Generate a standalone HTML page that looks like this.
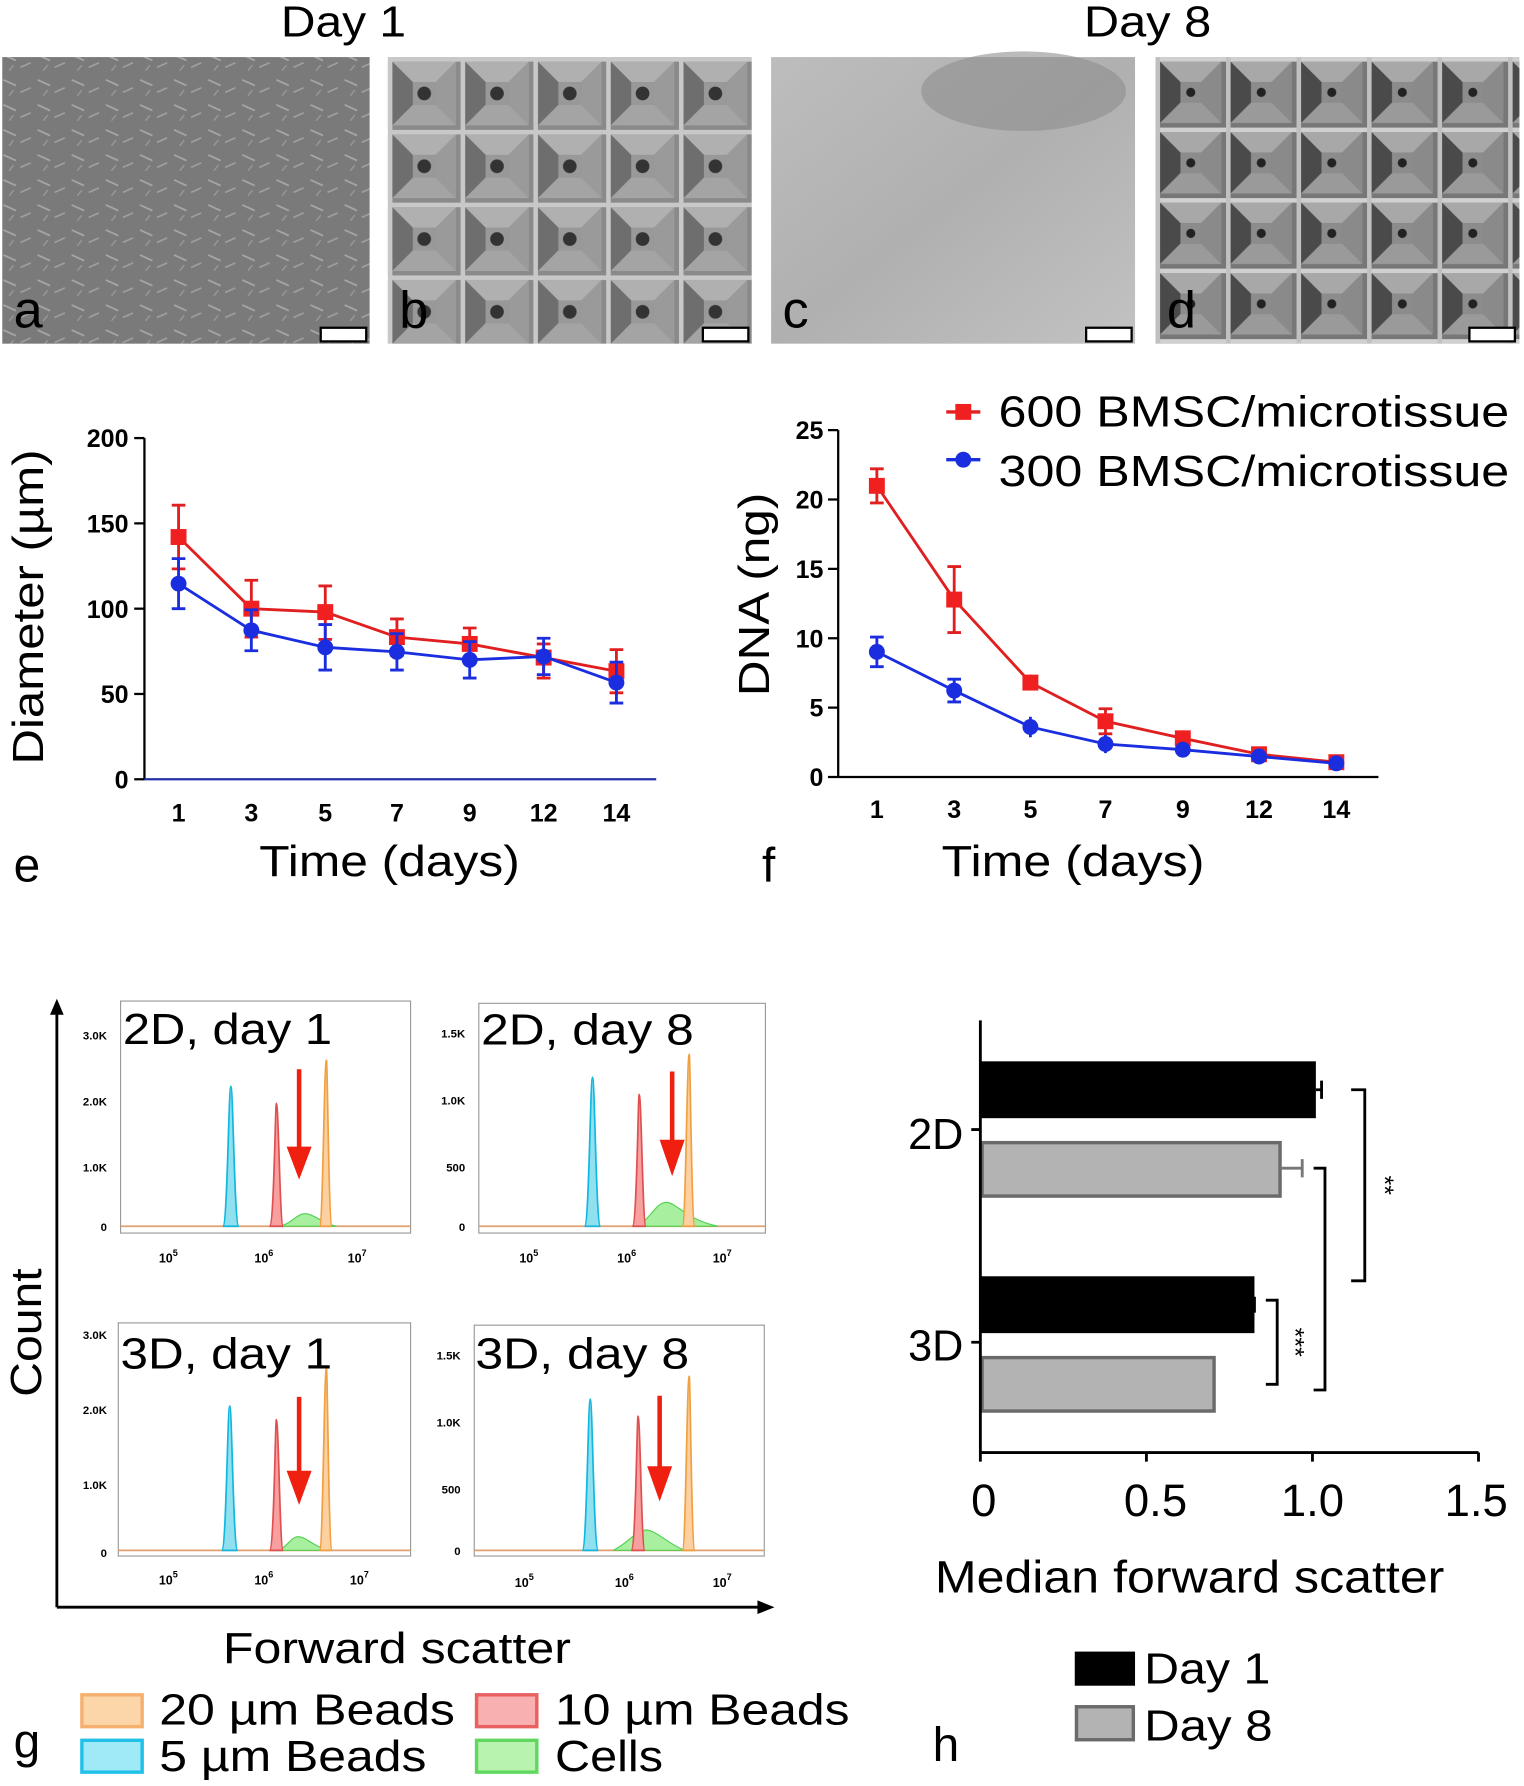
<!DOCTYPE html>
<html><head><meta charset="utf-8"><style>
html,body{margin:0;padding:0;background:#fff}
svg{display:block}
text{font-family:"Liberation Sans",Arial,sans-serif}
</style></head><body>
<svg width="1524" height="1786" viewBox="0 0 1340 1570" xmlns="http://www.w3.org/2000/svg">
<defs>
<pattern id="grid1" x="341" y="50" width="64" height="64" patternUnits="userSpaceOnUse">
<rect width="64" height="64" fill="#8a8a8a"/>
<polygon points="4,4 60,4 42,22 22,22" fill="#b0b0b0"/>
<polygon points="4,4 22,22 22,42 4,60" fill="#6e6e6e"/>
<polygon points="60,4 60,60 42,42 42,22" fill="#9a9a9a"/>
<polygon points="4,60 60,60 42,42 22,42" fill="#a4a4a4"/>
<rect x="22" y="22" width="20" height="20" fill="#999"/>
<circle cx="32" cy="32" r="6" fill="#333"/>
<rect x="0" y="0" width="64" height="4" fill="#c8c8c8"/>
<rect x="0" y="0" width="4" height="64" fill="#c8c8c8"/>
</pattern>
<pattern id="grid2" x="1016" y="50" width="62" height="62" patternUnits="userSpaceOnUse">
<rect width="62" height="62" fill="#777"/>
<polygon points="4,4 58,4 40,22 22,22" fill="#a8a8a8"/>
<polygon points="4,4 22,22 22,40 4,58" fill="#4a4a4a"/>
<polygon points="58,4 58,58 40,40 40,22" fill="#8a8a8a"/>
<polygon points="4,58 58,58 40,40 22,40" fill="#9a9a9a"/>
<rect x="22" y="22" width="18" height="18" fill="#8c8c8c"/>
<circle cx="31" cy="31" r="4" fill="#222"/>
<rect x="0" y="0" width="62" height="4" fill="#d0d0d0"/>
<rect x="0" y="0" width="4" height="62" fill="#c0c0c0"/>
</pattern>
<pattern id="cells" width="30" height="22" patternUnits="userSpaceOnUse">
<rect width="30" height="22" fill="#7a7a7a"/>
<line x1="3" y1="4" x2="14" y2="9" stroke="#a8a8a8" stroke-width="1.5"/>
<line x1="18" y1="15" x2="27" y2="11" stroke="#a0a0a0" stroke-width="1.5"/>
<line x1="8" y1="18" x2="12" y2="13" stroke="#999" stroke-width="1.2"/>
</pattern>
<linearGradient id="cg" x1="0" y1="0" x2="1" y2="1">
<stop offset="0" stop-color="#bdbdbd"/><stop offset="0.5" stop-color="#b0b0b0"/><stop offset="1" stop-color="#c2c2c2"/>
</linearGradient>
</defs>

<text x="247" y="32" font-size="38" textLength="110" lengthAdjust="spacingAndGlyphs">Day 1</text>
<text x="953" y="32" font-size="38" textLength="112" lengthAdjust="spacingAndGlyphs">Day 8</text>

<rect x="2" y="50" width="323" height="252" fill="url(#cells)"/>
<rect x="341" y="50" width="320" height="252" fill="url(#grid1)"/>
<rect x="678" y="50" width="320" height="252" fill="url(#cg)"/>
<ellipse cx="900" cy="80" rx="90" ry="35" fill="#8e8e8e" opacity="0.6"/>
<rect x="1016" y="50" width="320" height="252" fill="url(#grid2)"/>
<g font-size="46">
<text x="12" y="288">a</text><text x="351" y="288">b</text><text x="688" y="288">c</text><text x="1026" y="288">d</text>
</g>
<g fill="#fff" stroke="#000" stroke-width="2">
<rect x="282" y="288" width="40" height="12"/><rect x="618" y="288" width="40" height="12"/>
<rect x="955" y="288" width="40" height="12"/><rect x="1292" y="288" width="40" height="12"/>
</g>

<!-- panel e -->
<g stroke="#000" stroke-width="2" fill="none">
<line x1="127" y1="385" x2="127" y2="685"/>
<line x1="127" y1="685" x2="577" y2="685" stroke="#2233aa"/>
<line x1="118" y1="385" x2="127" y2="385"/><line x1="118" y1="460" x2="127" y2="460"/><line x1="118" y1="535" x2="127" y2="535"/><line x1="118" y1="610" x2="127" y2="610"/><line x1="118" y1="685" x2="127" y2="685"/>
</g>
<g font-size="22" font-weight="bold" text-anchor="end">
<text x="113" y="393">200</text><text x="113" y="468">150</text><text x="113" y="543">100</text><text x="113" y="618">50</text><text x="113" y="693">0</text>
</g>
<g font-size="22" font-weight="bold" text-anchor="middle">
<text x="157" y="722">1</text><text x="221" y="722">3</text><text x="286" y="722">5</text><text x="349" y="722">7</text><text x="413" y="722">9</text><text x="478" y="722">12</text><text x="542" y="722">14</text>
</g>
<text transform="translate(38,672) rotate(-90)" font-size="38" textLength="277" lengthAdjust="spacingAndGlyphs">Diameter (µm)</text>
<text x="228" y="770" font-size="38" textLength="229" lengthAdjust="spacingAndGlyphs">Time (days)</text>
<text x="12" y="775" font-size="42">e</text>
<g stroke="#e02020" stroke-width="2.5" fill="none">
<polyline points="157,472 221,535 286,538 349,560 413,566 478,578 542,590"/>
<path d="M157,444V500M151,444h12M151,500h12 M221,510V560M215,510h12M215,560h12 M286,515V562M280,515h12M280,562h12 M349,544V576M343,544h12M343,576h12 M413,552V580M407,552h12M407,580h12 M478,566V596M472,566h12M472,596h12 M542,571V609M536,571h12M536,609h12"/>
</g>
<g fill="#f02020"><rect x="150" y="465" width="14" height="14"/><rect x="214" y="528" width="14" height="14"/><rect x="279" y="531" width="14" height="14"/><rect x="342" y="553" width="14" height="14"/><rect x="406" y="559" width="14" height="14"/><rect x="471" y="571" width="14" height="14"/><rect x="535" y="583" width="14" height="14"/></g>
<g stroke="#1a2ee0" stroke-width="2.5" fill="none">
<polyline points="157,513 221,554 286,569 349,573 413,580 478,577 542,600"/>
<path d="M157,491V535M151,491h12M151,535h12 M221,536V572M215,536h12M215,572h12 M286,549V589M280,549h12M280,589h12 M349,557V589M343,557h12M343,589h12 M413,564V596M407,564h12M407,596h12 M478,561V593M472,561h12M472,593h12 M542,582V618M536,582h12M536,618h12"/>
</g>
<g fill="#1a2ee0"><circle cx="157" cy="513" r="7"/><circle cx="221" cy="554" r="7"/><circle cx="286" cy="569" r="7"/><circle cx="349" cy="573" r="7"/><circle cx="413" cy="580" r="7"/><circle cx="478" cy="577" r="7"/><circle cx="542" cy="600" r="7"/></g>

<!-- panel f -->
<g stroke="#000" stroke-width="2" fill="none">
<line x1="737" y1="378" x2="737" y2="683"/>
<line x1="737" y1="683" x2="1212" y2="683"/>
<path d="M728,378h9M728,439h9M728,500h9M728,561h9M728,622h9M728,683h9"/>
</g>
<g font-size="22" font-weight="bold" text-anchor="end">
<text x="724" y="386">25</text><text x="724" y="447">20</text><text x="724" y="508">15</text><text x="724" y="569">10</text><text x="724" y="630">5</text><text x="724" y="691">0</text>
</g>
<g font-size="22" font-weight="bold" text-anchor="middle">
<text x="771" y="719">1</text><text x="839" y="719">3</text><text x="906" y="719">5</text><text x="972" y="719">7</text><text x="1040" y="719">9</text><text x="1107" y="719">12</text><text x="1175" y="719">14</text>
</g>
<text transform="translate(676,612) rotate(-90)" font-size="38" textLength="179" lengthAdjust="spacingAndGlyphs">DNA (ng)</text>
<text x="828" y="770" font-size="38" textLength="231" lengthAdjust="spacingAndGlyphs">Time (days)</text>
<text x="670" y="775" font-size="42">f</text>
<g stroke="#e02020" stroke-width="2.5" fill="none">
<polyline points="771,427 839,527 906,600 972,634 1040,649 1107,663 1175,670"/>
<path d="M771,412V442M765,412h12M765,442h12 M839,498V556M833,498h12M833,556h12 M906,593V607 M972,623V645M966,623h12M966,645h12 M1040,642V656"/>
</g>
<g fill="#f02020"><rect x="764" y="420" width="14" height="14"/><rect x="832" y="520" width="14" height="14"/><rect x="899" y="593" width="14" height="14"/><rect x="965" y="627" width="14" height="14"/><rect x="1033" y="642" width="14" height="14"/><rect x="1100" y="656" width="14" height="14"/><rect x="1168" y="663" width="14" height="14"/></g>
<g stroke="#1a2ee0" stroke-width="2.5" fill="none">
<polyline points="771,573 839,607 906,639 972,654 1040,659 1107,665 1175,671"/>
<path d="M771,560V586M765,560h12M765,586h12 M839,597V617M833,597h12M833,617h12 M906,630V648 M972,646V662"/>
</g>
<g fill="#1a2ee0"><circle cx="771" cy="573" r="7"/><circle cx="839" cy="607" r="7"/><circle cx="906" cy="639" r="7"/><circle cx="972" cy="654" r="7"/><circle cx="1040" cy="659" r="7"/><circle cx="1107" cy="665" r="7"/><circle cx="1175" cy="671" r="7"/></g>
<line x1="832" y1="362" x2="862" y2="362" stroke="#e02020" stroke-width="3"/><rect x="840" y="355" width="14" height="14" fill="#f02020"/>
<text x="878" y="375" font-size="38" textLength="449" lengthAdjust="spacingAndGlyphs">600 BMSC/microtissue</text>
<line x1="832" y1="404" x2="862" y2="404" stroke="#1a2ee0" stroke-width="3"/><circle cx="847" cy="404" r="7" fill="#1a2ee0"/>
<text x="878" y="427" font-size="38" textLength="449" lengthAdjust="spacingAndGlyphs">300 BMSC/microtissue</text>

<!-- panel g -->
<g stroke="#000" stroke-width="2.5" fill="#000">
<line x1="50" y1="1413" x2="50" y2="890"/><polygon points="44,892 50,878 56,892" stroke="none"/>
<line x1="50" y1="1413" x2="668" y2="1413"/><polygon points="666,1407 681,1413 666,1419" stroke="none"/>
</g>
<text transform="translate(36,1228) rotate(-90)" font-size="38" textLength="113" lengthAdjust="spacingAndGlyphs">Count</text>
<text x="196" y="1462" font-size="38" textLength="306" lengthAdjust="spacingAndGlyphs">Forward scatter</text>

<g transform="translate(106,880)">
<rect x="0" y="0" width="255" height="204" fill="none" stroke="#999" stroke-width="1"/>
<line x1="0" y1="198" x2="255" y2="198" stroke="#e0a070" stroke-width="1.5"/>
<path d="M140,198 C150,196 155,187 162,187 C170,187 178,196 190,198Z" fill="#a8f0a0" stroke="#50d050" stroke-width="1"/>
<path d="M90,198 C94,198 95,75 97,75 C99,75 100,198 104,198Z" fill="#90e0f0" stroke="#10b8e0" stroke-width="1.5"/>
<path d="M131,198 C135,198 136,90 137,90 C139,90 140,198 143,198Z" fill="#f8a0a0" stroke="#e05050" stroke-width="1.5"/>
<path d="M175,198 C178,198 179,52 181,52 C182,52 183,198 186,198Z" fill="#fcd0a0" stroke="#f0a040" stroke-width="1.5"/>
<line x1="157" y1="60" x2="157" y2="130" stroke="#f02010" stroke-width="4"/><polygon points="146,128 168,128 157,157" fill="#f02010"/>
<text x="2" y="38" font-size="38" textLength="184" lengthAdjust="spacingAndGlyphs">2D, day 1</text>
<g font-size="10" font-weight="bold" text-anchor="end"><text x="-12" y="34">3.0K</text><text x="-12" y="92">2.0K</text><text x="-12" y="150">1.0K</text><text x="-12" y="202">0</text></g>
<g font-size="11" font-weight="bold" text-anchor="middle"><text x="42" y="230">10<tspan dy="-6" font-size="8">5</tspan></text><text x="126" y="230">10<tspan dy="-6" font-size="8">6</tspan></text><text x="208" y="230">10<tspan dy="-6" font-size="8">7</tspan></text></g>
</g>
<g transform="translate(421,882)">
<rect x="0" y="0" width="252" height="202" fill="none" stroke="#999" stroke-width="1"/>
<line x1="0" y1="196" x2="252" y2="196" stroke="#e0a070" stroke-width="1.5"/>
<path d="M138,196 C150,192 155,175 165,175 C175,176 182,190 210,196Z" fill="#a8f0a0" stroke="#50d050" stroke-width="1"/>
<path d="M93,196 C97,196 98,65 100,65 C102,65 103,196 107,196Z" fill="#90e0f0" stroke="#10b8e0" stroke-width="1.5"/>
<path d="M135,196 C139,196 140,80 141,80 C143,80 144,196 147,196Z" fill="#f8a0a0" stroke="#e05050" stroke-width="1.5"/>
<path d="M179,196 C182,196 183,45 185,45 C186,45 187,196 190,196Z" fill="#fcd0a0" stroke="#f0a040" stroke-width="1.5"/>
<line x1="170" y1="60" x2="170" y2="122" stroke="#f02010" stroke-width="4"/><polygon points="159,120 181,120 170,152" fill="#f02010"/>
<text x="2" y="36" font-size="38" textLength="187" lengthAdjust="spacingAndGlyphs">2D, day 8</text>
<g font-size="10" font-weight="bold" text-anchor="end"><text x="-12" y="30">1.5K</text><text x="-12" y="89">1.0K</text><text x="-12" y="148">500</text><text x="-12" y="200">0</text></g>
<g font-size="11" font-weight="bold" text-anchor="middle"><text x="44" y="228">10<tspan dy="-6" font-size="8">5</tspan></text><text x="130" y="228">10<tspan dy="-6" font-size="8">6</tspan></text><text x="214" y="228">10<tspan dy="-6" font-size="8">7</tspan></text></g>
</g>
<g transform="translate(104,1163)">
<rect x="0" y="0" width="257" height="205" fill="none" stroke="#999" stroke-width="1"/>
<line x1="0" y1="200" x2="257" y2="200" stroke="#e0a070" stroke-width="1.5"/>
<path d="M140,200 C148,198 152,188 158,188 C166,188 172,198 188,200Z" fill="#a8f0a0" stroke="#50d050" stroke-width="1"/>
<path d="M91,200 C95,200 96,73 98,73 C100,73 101,200 105,200Z" fill="#90e0f0" stroke="#10b8e0" stroke-width="1.5"/>
<path d="M133,200 C137,200 138,85 139,85 C141,85 142,200 145,200Z" fill="#f8a0a0" stroke="#e05050" stroke-width="1.5"/>
<path d="M177,200 C180,200 181,40 183,40 C184,40 185,200 188,200Z" fill="#fcd0a0" stroke="#f0a040" stroke-width="1.5"/>
<line x1="159" y1="65" x2="159" y2="132" stroke="#f02010" stroke-width="4"/><polygon points="148,130 170,130 159,160" fill="#f02010"/>
<text x="2" y="40" font-size="38" textLength="186" lengthAdjust="spacingAndGlyphs">3D, day 1</text>
<g font-size="10" font-weight="bold" text-anchor="end"><text x="-10" y="14">3.0K</text><text x="-10" y="80">2.0K</text><text x="-10" y="146">1.0K</text><text x="-10" y="206">0</text></g>
<g font-size="11" font-weight="bold" text-anchor="middle"><text x="44" y="230">10<tspan dy="-6" font-size="8">5</tspan></text><text x="128" y="230">10<tspan dy="-6" font-size="8">6</tspan></text><text x="212" y="230">10<tspan dy="-6" font-size="8">7</tspan></text></g>
</g>
<g transform="translate(417,1165)">
<rect x="0" y="0" width="255" height="203" fill="none" stroke="#999" stroke-width="1"/>
<line x1="0" y1="198" x2="255" y2="198" stroke="#e0a070" stroke-width="1.5"/>
<path d="M122,198 C135,192 142,180 152,180 C162,182 170,192 185,198Z" fill="#a8f0a0" stroke="#50d050" stroke-width="1"/>
<path d="M95,198 C99,198 100,65 102,65 C104,65 105,198 109,198Z" fill="#90e0f0" stroke="#10b8e0" stroke-width="1.5"/>
<path d="M138,198 C142,198 143,80 144,80 C146,80 147,198 150,198Z" fill="#f8a0a0" stroke="#e05050" stroke-width="1.5"/>
<path d="M183,198 C186,198 187,45 189,45 C190,45 191,198 194,198Z" fill="#fcd0a0" stroke="#f0a040" stroke-width="1.5"/>
<line x1="163" y1="62" x2="163" y2="126" stroke="#f02010" stroke-width="4"/><polygon points="152,124 174,124 163,155" fill="#f02010"/>
<text x="1" y="38" font-size="38" textLength="188" lengthAdjust="spacingAndGlyphs">3D, day 8</text>
<g font-size="10" font-weight="bold" text-anchor="end"><text x="-12" y="30">1.5K</text><text x="-12" y="89">1.0K</text><text x="-12" y="148">500</text><text x="-12" y="202">0</text></g>
<g font-size="11" font-weight="bold" text-anchor="middle"><text x="44" y="230">10<tspan dy="-6" font-size="8">5</tspan></text><text x="132" y="230">10<tspan dy="-6" font-size="8">6</tspan></text><text x="218" y="230">10<tspan dy="-6" font-size="8">7</tspan></text></g>
</g>

<rect x="72" y="1490" width="53" height="28" fill="#fcd6a8" stroke="#f5b070" stroke-width="3"/>
<text x="140" y="1516" font-size="38" textLength="260" lengthAdjust="spacingAndGlyphs">20 µm Beads</text>
<rect x="419" y="1490" width="53" height="28" fill="#f8b0b0" stroke="#e86060" stroke-width="3"/>
<text x="488" y="1516" font-size="38" textLength="259" lengthAdjust="spacingAndGlyphs">10 µm Beads</text>
<rect x="72" y="1530" width="53" height="28" fill="#a0eaf8" stroke="#20c0e8" stroke-width="3"/>
<text x="140" y="1557" font-size="38" textLength="235" lengthAdjust="spacingAndGlyphs">5 µm Beads</text>
<rect x="419" y="1530" width="53" height="28" fill="#b8f4b0" stroke="#60d860" stroke-width="3"/>
<text x="488" y="1557" font-size="38" textLength="95" lengthAdjust="spacingAndGlyphs">Cells</text>
<text x="12" y="1545" font-size="42">g</text>

<rect x="862" y="933" width="295" height="50" fill="#000"/>
<path d="M1157,958H1162M1162,950V966" stroke="#000" stroke-width="2.5"/>
<rect x="863.5" y="1004.5" width="262" height="47" fill="#b3b3b3" stroke="#6a6a6a" stroke-width="3"/>
<path d="M1126,1027H1145M1145,1019V1035" stroke="#777" stroke-width="2.5"/>
<rect x="862" y="1122" width="241" height="50" fill="#000"/>
<path d="M1103,1140V1154" stroke="#000" stroke-width="2.5"/>
<rect x="863.5" y="1193.5" width="204" height="47" fill="#b3b3b3" stroke="#6a6a6a" stroke-width="3"/>
<g stroke="#000" stroke-width="2.5" fill="none">
<line x1="862" y1="897" x2="862" y2="1277"/>
<line x1="862" y1="1277" x2="1300" y2="1277"/>
<path d="M862,1277v8M1008,1277v8M1154,1277v8M1300,1277v8M854,993h8M854,1180h8"/>
<path d="M1188,958H1200V1126H1188"/>
<path d="M1155,1027H1165V1222H1155"/>
<path d="M1113,1143H1123V1217H1113"/>
</g>
<text transform="translate(1210,1042) rotate(90)" font-size="22" text-anchor="middle">**</text>
<text transform="translate(1131,1180) rotate(90)" font-size="22" text-anchor="middle">***</text>
<text x="847" y="1010" font-size="38" text-anchor="end">2D</text>
<text x="847" y="1196" font-size="38" text-anchor="end">3D</text>
<g font-size="40" text-anchor="middle"><text x="865" y="1333">0</text><text x="1016" y="1333">0.5</text><text x="1154" y="1333">1.0</text><text x="1298" y="1333">1.5</text></g>
<text x="822" y="1400" font-size="40" textLength="448" lengthAdjust="spacingAndGlyphs">Median forward scatter</text>
<rect x="945" y="1452" width="53" height="30" fill="#000"/>
<text x="1006" y="1480" font-size="38" textLength="111" lengthAdjust="spacingAndGlyphs">Day 1</text>
<rect x="946.5" y="1500.5" width="50" height="29" fill="#b3b3b3" stroke="#6a6a6a" stroke-width="3"/>
<text x="1006" y="1530" font-size="38" textLength="113" lengthAdjust="spacingAndGlyphs">Day 8</text>
<text x="820" y="1548" font-size="42">h</text>
</svg>
</body></html>
